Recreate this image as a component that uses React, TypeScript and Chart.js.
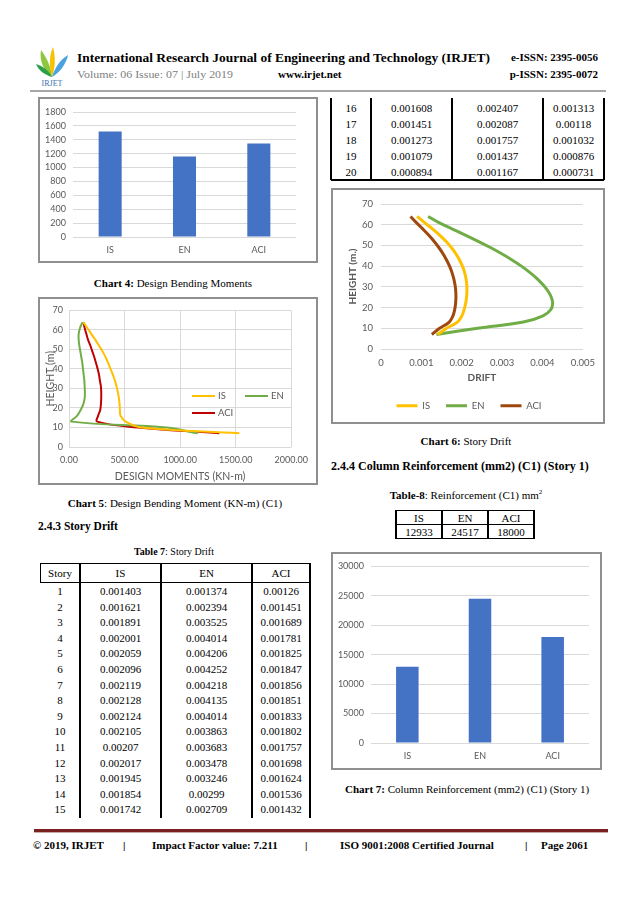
import React, { useEffect, useLayoutEffect, useRef } from "react";
import { Chart, registerables } from "chart.js";
Chart.register(...registerables);

const SERIF = '"Liberation Serif", "DejaVu Serif", serif';
const SANS = 'Lato, "Liberation Sans", sans-serif';
Chart.defaults.font.family = SANS;

// ---------- data ----------
const codes = ["IS", "EN", "ACI"];
const designMoments = [1520, 1160, 1345];
const reinforcement = [12933, 24517, 18000];

const stories = [1, 2, 3, 4, 5, 6, 7, 8, 9, 10, 11, 12, 13, 14, 15, 16, 17, 18, 19, 20];
const storyHeights = [7, 10, 13, 16, 19, 22, 25, 28, 31, 34, 37, 40, 43, 46, 49, 52, 55, 58, 61, 64];

const driftIS = [0.001403, 0.001621, 0.001891, 0.002001, 0.002059, 0.002096, 0.002119, 0.002128, 0.002124, 0.002105, 0.00207, 0.002017, 0.001945, 0.001854, 0.001742, 0.001608, 0.001451, 0.001273, 0.001079, 0.000894];
const driftEN = [0.001374, 0.002394, 0.003525, 0.004014, 0.004206, 0.004252, 0.004218, 0.004135, 0.004014, 0.003863, 0.003683, 0.003478, 0.003246, 0.00299, 0.002709, 0.002407, 0.002087, 0.001757, 0.001437, 0.001167];
const driftACI = [0.00126, 0.001451, 0.001689, 0.001781, 0.001825, 0.001847, 0.001856, 0.001851, 0.001833, 0.001802, 0.001757, 0.001698, 0.001624, 0.001536, 0.001432, 0.001313, 0.00118, 0.001032, 0.000876, 0.000731];

const momentIS = [1533, 650, 510, 464, 458, 455, 449, 440, 428, 413, 395, 374, 353, 329, 302, 269, 236, 200, 165, 128];
const momentEN = [1159, 880, 25, 72, 105, 129, 141, 143, 141, 138, 132, 126, 120, 111, 102, 93, 87, 87, 99, 122];
const momentACI = [1353, 620, 254, 262, 281, 287, 290, 290, 287, 278, 270, 258, 243, 228, 210, 192, 171, 156, 141, 130];

const momentColors = ["#FFC000", "#70AD47", "#C00000"];
const driftColors = ["#FFC000", "#70AD47", "#9E480E"];
const BAR = "#4472C4";
const GRID = "#d9d9d9";
const TICK = "#595959";

// ---------- helpers ----------
type TxtProps = {
  x: number; y: number; children: React.ReactNode; size?: number; bold?: boolean;
  align?: "left" | "center" | "right"; color?: string; fit?: number; family?: string;
};
function Txt({ x, y, children, size = 11.5, bold = false, align = "left", color = "#000", fit, family = SERIF }: TxtProps) {
  const ref = useRef<HTMLSpanElement>(null);
  useLayoutEffect(() => {
    const el = ref.current;
    if (!el || !fit) return;
    el.style.transform = "none";
    const w = el.getBoundingClientRect().width;
    if (w > 0) el.style.transform = `scaleX(${fit / w})`;
  }, [fit]);
  const lh = Math.round(size * 1.3);
  const style: React.CSSProperties = {
    position: "absolute", top: y - lh / 2, lineHeight: lh + "px", fontSize: size, fontFamily: family,
    fontWeight: bold ? 700 : 400, color, whiteSpace: "nowrap",
  };
  if (align === "left") style.left = x;
  else if (align === "right") style.right = 638 - x;
  else { style.left = x; style.transform = "translateX(-50%)"; }
  return (
    <div style={style}>
      <span ref={ref} style={{ display: "inline-block", transformOrigin: "left center" }}>{children}</span>
    </div>
  );
}
const HL = ({ x1, x2, y, w = 1, c = "#000" }: any) => (
  <div style={{ position: "absolute", left: x1, top: y - w / 2, width: x2 - x1, height: w, background: c }} />
);
const VL = ({ x, y1, y2, w = 1, c = "#000" }: any) => (
  <div style={{ position: "absolute", left: x - w / 2, top: y1, width: w, height: y2 - y1, background: c }} />
);
const Box = ({ l, t, w, h }: any) => (
  <div style={{ position: "absolute", left: l, top: t, width: w, height: h, border: "2px solid #8f8f8f", boxSizing: "border-box" }} />
);

function ChartCanvas({ left, top, width, height, make }: any) {
  const ref = useRef<HTMLCanvasElement>(null);
  useEffect(() => {
    const chart = new Chart(ref.current as HTMLCanvasElement, make());
    return () => chart.destroy();
  }, []);
  return <canvas ref={ref} width={width} height={height} style={{ position: "absolute", left, top, width, height }} />;
}

const tickFont = { family: SANS, size: 9 };
const plain = (v: any) => String(v);

function barConfig(values: number[], max: number, step: number, yWidth: number, padTop: number, padRight: number, xHeight: number): any {
  return {
    type: "bar",
    data: { labels: codes, datasets: [{ data: values, backgroundColor: BAR, barPercentage: 0.31, categoryPercentage: 1 }] },
    options: {
      responsive: false, animation: false,
      layout: { padding: { top: padTop, right: padRight, left: 0, bottom: 0 } },
      plugins: { legend: { display: false }, tooltip: { enabled: false } },
      scales: {
        x: {
          grid: { display: false, drawTicks: false }, border: { display: false },
          ticks: { color: TICK, font: tickFont, padding: 8 },
          afterFit: (s: any) => { s.height = xHeight; },
        },
        y: {
          min: 0, max, grid: { color: GRID, drawTicks: false }, border: { display: false },
          ticks: { stepSize: step, color: TICK, font: tickFont, padding: 7, callback: plain },
          afterFit: (s: any) => { s.width = yWidth; },
        },
      },
    },
  };
}

function momentConfig(): any {
  const series = [momentIS, momentEN, momentACI];
  return {
    type: "scatter",
    data: {
      datasets: codes.map((c, k) => ({
        label: c,
        data: storyHeights.map((h, i) => ({ x: series[k][i], y: h })),
        showLine: true, borderColor: momentColors[k], backgroundColor: momentColors[k],
        borderWidth: 2, pointRadius: 0, tension: 0.4, fill: false,
      })),
    },
    options: {
      responsive: false, animation: false,
      layout: { padding: { top: 7, right: 24, left: 0, bottom: 0 } },
      plugins: { legend: { display: false }, tooltip: { enabled: false } },
      scales: {
        x: {
          type: "linear", min: 0, max: 2000,
          grid: { color: GRID, drawTicks: false }, border: { display: false },
          ticks: { stepSize: 500, color: TICK, font: tickFont, padding: 8, callback: (v: any) => Number(v).toFixed(2) },
          title: { display: true, text: "DESIGN MOMENTS (KN-m)", color: TICK, font: { family: SANS, size: 10.5 }, padding: { top: 0, bottom: 0 } },
          afterFit: (s: any) => { s.height = 36; },
        },
        y: {
          min: 0, max: 70,
          grid: { color: GRID, drawTicks: false }, border: { display: false },
          ticks: { stepSize: 10, color: TICK, font: tickFont, padding: 6, callback: plain },
          title: { display: true, text: "HEIGHT (m)", color: TICK, font: { family: SANS, size: 10.5 }, padding: { top: 4, bottom: 0 } },
          afterFit: (s: any) => { s.width = 29; },
        },
      },
    },
  };
}

function driftConfig(): any {
  const series = [driftIS, driftEN, driftACI];
  return {
    type: "scatter",
    data: {
      datasets: codes.map((c, k) => ({
        label: c,
        data: storyHeights.map((h, i) => ({ x: series[k][i], y: h })),
        showLine: true, borderColor: driftColors[k], backgroundColor: driftColors[k],
        borderWidth: 3, pointRadius: 0, tension: 0.4, fill: false,
      })),
    },
    options: {
      responsive: false, animation: false,
      layout: { padding: { top: 14, right: 12, left: 14, bottom: 1.5 } },
      plugins: {
        tooltip: { enabled: false },
        legend: {
          position: "bottom",
          labels: {
            usePointStyle: true, pointStyle: "line", pointStyleWidth: 21, boxHeight: 3,
            color: TICK, font: { family: SANS, size: 9.5 }, padding: 16,
          },
        },
      },
      scales: {
        x: {
          type: "linear", min: 0, max: 0.005,
          grid: { display: false, drawTicks: false }, border: { color: GRID },
          ticks: { stepSize: 0.001, color: TICK, font: { family: SANS, size: 9.5 }, padding: 8, callback: (v: any) => (Number(v) === 0 ? "0" : Number(v).toFixed(3)) },
          title: { display: true, text: "DRIFT", color: TICK, font: { family: SANS, size: 10, weight: "bold" }, padding: { top: 0, bottom: 1 } },
          afterFit: (s: any) => { s.height = 36; },
        },
        y: {
          min: 0, max: 70,
          grid: { color: GRID, drawTicks: false }, border: { display: false },
          ticks: { stepSize: 10, color: TICK, font: { family: SANS, size: 9.5 }, padding: 8, callback: plain },
          title: { display: true, text: "HEIGHT (m.)", color: TICK, font: { family: SANS, size: 10, weight: "bold" }, padding: { top: 0, bottom: 0 } },
          afterFit: (s: any) => { s.width = 34; },
        },
      },
    },
  };
}

function LegendLine({ x, y, color, label }: any) {
  return (
    <>
      <div style={{ position: "absolute", left: x, top: y - 1, width: 23, height: 2, background: color }} />
      <Txt x={x + 26} y={y} size={9.5} family={SANS} color={TICK}>{label}</Txt>
    </>
  );
}

function Logo() {
  return (
    <svg style={{ position: "absolute", left: 35, top: 46 }} width={34} height={42} viewBox="0 0 34 42">
      <path d="M17 31 C 9 25, 4 15, 6 4 C 12 12, 16 21, 17 31 Z" fill="#8dc63f" />
      <path d="M17 31 C 14 21, 14 10, 18 1 C 21 12, 20 22, 17 31 Z" fill="#f2c500" />
      <path d="M17 31 C 20 21, 26 13, 33 9 C 31 19, 24 27, 17 31 Z" fill="#4aa3df" />
      <path d="M17 31 C 10 29, 4 25, 1 18 C 8 20, 14 25, 17 31 Z" fill="#2e9e48" />
      <text x="17" y="40" textAnchor="middle" fontSize="8" fill="#3a6fb0" fontFamily={SERIF}>IRJET</text>
    </svg>
  );
}

// ---------- tables ----------
const t7cols = [40, 80, 161, 252, 310];
const t7centers = [60, 120.5, 206.5, 281];
const t6cols = [331, 371, 452, 543, 604];
const t6centers = [351, 411.5, 497.5, 573.5];

function LeftTable() {
  const rows = stories.slice(0, 15);
  return (
    <>
      <HL x1={40} x2={310} y={563} />
      <HL x1={40} x2={310} y={582} />
      <VL x={40} y1={563} y2={582} />
      {t7cols.slice(1).map((x) => <VL key={x} x={x} y1={563} y2={818} w={1.3} />)}
      {["Story", ...codes].map((h, j) => <Txt key={h} x={t7centers[j]} y={573} size={11} align="center">{h}</Txt>)}
      {rows.map((s, i) => {
        const y = 591 + i * 15.6;
        return (
          <React.Fragment key={s}>
            <Txt x={t7centers[0]} y={y} size={11} align="center">{String(s)}</Txt>
            <Txt x={t7centers[1]} y={y} size={11} align="center">{String(driftIS[s - 1])}</Txt>
            <Txt x={t7centers[2]} y={y} size={11} align="center">{String(driftEN[s - 1])}</Txt>
            <Txt x={t7centers[3]} y={y} size={11} align="center">{String(driftACI[s - 1])}</Txt>
          </React.Fragment>
        );
      })}
    </>
  );
}

function RightTable() {
  const rows = stories.slice(15);
  return (
    <>
      {t6cols.map((x) => <VL key={x} x={x} y1={98} y2={180} w={1.3} />)}
      <HL x1={331} x2={604} y={179.5} w={2} />
      {rows.map((s, i) => {
        const y = 108 + i * 15.9;
        return (
          <React.Fragment key={s}>
            <Txt x={t6centers[0]} y={y} size={11} align="center">{String(s)}</Txt>
            <Txt x={t6centers[1]} y={y} size={11} align="center">{String(driftIS[s - 1])}</Txt>
            <Txt x={t6centers[2]} y={y} size={11} align="center">{String(driftEN[s - 1])}</Txt>
            <Txt x={t6centers[3]} y={y} size={11} align="center">{String(driftACI[s - 1])}</Txt>
          </React.Fragment>
        );
      })}
    </>
  );
}

function Table8() {
  const cols = [396, 442, 488, 534];
  return (
    <>
      {[510.5, 524.5, 538.5].map((y) => <HL key={y} x1={396} x2={534} y={y} w={1.3} />)}
      {cols.map((x) => <VL key={x} x={x} y1={510} y2={539} w={1.3} />)}
      {codes.map((c, j) => <Txt key={c} x={(cols[j] + cols[j + 1]) / 2} y={517.5} size={11} align="center">{c}</Txt>)}
      {reinforcement.map((v, j) => <Txt key={j} x={(cols[j] + cols[j + 1]) / 2} y={531.5} size={11} align="center">{String(v)}</Txt>)}
    </>
  );
}

export default function App() {
  return (
    <div style={{ position: "absolute", left: 0, top: 0, width: 638, height: 902, background: "#fff", overflow: "hidden", fontFamily: SERIF }}>
      {/* header */}
      <Logo />
      <Txt x={77} y={57} size={13} bold fit={413}>International Research Journal of Engineering and Technology (IRJET)</Txt>
      <Txt x={598} y={57} size={11} bold align="right">e-ISSN: 2395-0056</Txt>
      <Txt x={77} y={74} size={11} color="#808080" fit={156}>Volume: 06 Issue: 07 | July 2019</Txt>
      <Txt x={278} y={74} size={11} bold>www.irjet.net</Txt>
      <Txt x={598} y={74} size={11} bold align="right">p-ISSN: 2395-0072</Txt>
      <HL x1={30} x2={606} y={91} w={1.5} c="#a6a6a6" />

      {/* chart 4 */}
      <Box l={38} t={97} w={280} h={166} />
      <ChartCanvas left={40} top={99} width={276} height={162} make={() => barConfig(designMoments, 1800, 200, 33, 13, 20, 24)} />
      <Txt x={173} y={283} size={11} align="center"><b>Chart 4:</b> Design Bending Moments</Txt>

      {/* chart 5 */}
      <Box l={38} t={297} w={280} h={188} />
      <ChartCanvas left={40} top={299} width={276} height={184} make={momentConfig} />
      <LegendLine x={192} y={396} color={momentColors[0]} label={codes[0]} />
      <LegendLine x={245} y={396} color={momentColors[1]} label={codes[1]} />
      <LegendLine x={192} y={413} color={momentColors[2]} label={codes[2]} />
      <Txt x={175} y={503} size={11} align="center"><b>Chart 5</b>: Design Bending Moment (KN-m) (C1)</Txt>
      <Txt x={38} y={526} size={11.5} bold>2.4.3 Story Drift</Txt>
      <Txt x={174} y={551} size={10} align="center"><b>Table 7</b>: Story Drift</Txt>
      <LeftTable />

      {/* right column */}
      <RightTable />
      <Box l={331} t={188} w={274} h={236} />
      <ChartCanvas left={333} top={190} width={270} height={232} make={driftConfig} />
      <Txt x={466} y={441} size={11} align="center"><b>Chart 6:</b> Story Drift</Txt>
      <Txt x={331} y={466} size={12} bold>2.4.4 Column Reinforcement (mm2) (C1) (Story 1)</Txt>
      <Txt x={466} y={492} size={11} align="center"><b>Table-8</b>: Reinforcement (C1) mm<sup style={{ fontSize: 7 }}>2</sup></Txt>
      <Table8 />
      <Box l={331} t={552} w={271} h={218} />
      <ChartCanvas left={333} top={554} width={267} height={214} make={() => barConfig(reinforcement, 30000, 5000, 38, 10, 11, 25)} />
      <Txt x={467} y={789} size={11} align="center"><b>Chart 7:</b> Column Reinforcement (mm2) (C1) (Story 1)</Txt>

      {/* footer */}
      <HL x1={34} x2={608} y={830} w={3} c="#7b2020" />
      <HL x1={34} x2={608} y={832.5} w={1} c="#c9a9a9" />
      <Txt x={33} y={845} size={11} bold>© 2019, IRJET</Txt>
      <Txt x={123} y={845} size={11} bold>|</Txt>
      <Txt x={152} y={845} size={11} bold>Impact Factor value: 7.211</Txt>
      <Txt x={305} y={845} size={11} bold>|</Txt>
      <Txt x={340} y={845} size={11} bold>ISO 9001:2008 Certified Journal</Txt>
      <Txt x={525} y={845} size={11} bold>|</Txt>
      <Txt x={541} y={845} size={11} bold>Page 2061</Txt>
    </div>
  );
}
